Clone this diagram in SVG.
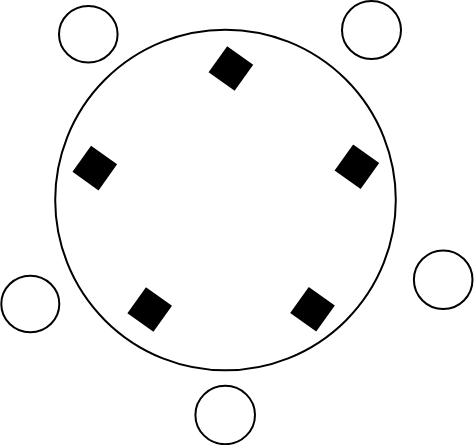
<svg xmlns="http://www.w3.org/2000/svg" width="474" height="445" viewBox="0 0 474 445">
<style>
.ring{fill:none;stroke:#000;stroke-width:2}
.seat{fill:#fff;stroke:#000;stroke-width:2}
.sq{fill:#000}
</style>
<defs>
<rect id="s" class="sq" x="-16" y="-16" width="32" height="32"/>
</defs>
<rect width="474" height="445" fill="#fff"/>
<g id="table"><circle class="ring" cx="225.5" cy="200" r="170.3"/></g>
<g id="sq-top"><use href="#s" transform="translate(230.9 68.5) rotate(35.5)"/></g>
<g id="sq-left"><use href="#s" transform="translate(94.8 168.1) rotate(35.5)"/></g>
<g id="sq-right"><use href="#s" transform="translate(356.9 166.7) rotate(35.5)"/></g>
<g id="sq-bl"><use href="#s" transform="translate(149.7 309.5) rotate(35.5)"/></g>
<g id="sq-br"><use href="#s" transform="translate(312.5 309.3) rotate(35.5)"/></g>
<g id="c-tl"><ellipse class="seat" cx="88.3" cy="34.3" rx="29.3" ry="28.3"/></g>
<g id="c-tr"><ellipse class="seat" cx="371.5" cy="30" rx="29.5" ry="29"/></g>
<g id="c-l"><ellipse class="seat" cx="30.3" cy="304" rx="29" ry="28.3"/></g>
<g id="c-r"><ellipse class="seat" cx="443.2" cy="279.7" rx="29.3" ry="29.3"/></g>
<g id="c-b"><ellipse class="seat" cx="225.2" cy="415" rx="29.8" ry="29.2"/></g>
<g id="connectors"></g>
</svg>
